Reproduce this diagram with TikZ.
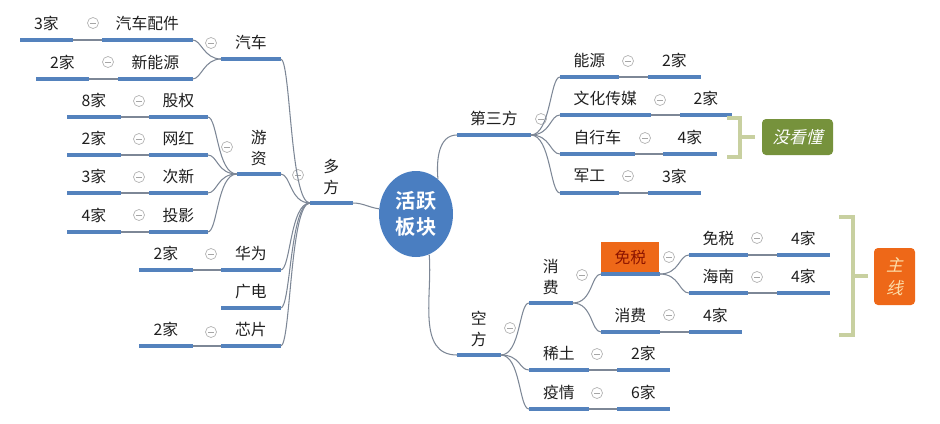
\documentclass[tikz,border=0pt]{standalone}
\usepackage{fontspec}
\setmainfont{Noto Sans CJK SC}[BoldFont={Noto Sans CJK SC Bold}]
\newfontfamily\slcjk[FakeSlant=0.25]{Noto Sans CJK SC}
\usetikzlibrary{shapes.geometric}
\definecolor{barblue}{RGB}{84,130,189}
\definecolor{linkgray}{RGB}{125,135,150}
\definecolor{coreblue}{RGB}{74,126,193}
\definecolor{hotorange}{RGB}{238,104,24}
\definecolor{olive}{RGB}{118,146,60}
\definecolor{bracketgreen}{RGB}{200,208,160}
\tikzset{
  bar/.style={draw=barblue,line width=2pt},
  item/.style={anchor=south west,inner sep=0pt,minimum width=#1*0.02cm,
    minimum height=33*0.02cm,text=black!88,font=\fontsize{9}{12}\selectfont,
    append after command={(\tikzlastnode.south west) edge[bar] (\tikzlastnode.south east)}},
  tall/.style={minimum height=51*0.02cm,align=center},
  fold/.style={circle,draw=gray!60,minimum size=11*0.02cm,inner sep=0pt,
    path picture={\draw[gray!70] ([xshift=-0.06cm]path picture bounding box.center)
      -- ([xshift=0.06cm]path picture bounding box.center);}},
  link/.style={draw=linkgray,line width=0.6pt},
  leftfork/.style={to path={.. controls +(-#1,0) and +(0.5*#1,0) .. (\tikztotarget)}},
  leftfork/.default=20,
  rightfork/.style={to path={.. controls +(#1,0) and +(-0.5*#1,0) .. (\tikztotarget)}},
  rightfork/.default=20,
  tag/.style={rounded corners=0.08cm,inner sep=0pt,text=white,
    font=\slcjk\fontsize{9.5}{12}\selectfont},
  brk/.style={draw=bracketgreen,line width=2.8pt}
}

\begin{document}
\begin{tikzpicture}[x=0.02cm,y=-0.02cm]
  \useasboundingbox (0,0) rectangle (940,423);
  % centre
  \node[ellipse,fill=coreblue,minimum width=74*0.02cm,minimum height=86*0.02cm,inner sep=0pt,
    text=white,align=center,font=\bfseries\fontsize{11.5}{15}\selectfont] (core) at (416,214) {活跃\\板块};

  % left: 多方
  \node[item=42,tall] (duofang) at (310,203) {多\\方};
  \node[item=59] (qiche) at (221,59) {汽车};
  \node[item=52] (n3a) at (20,40) {3家};
  \node[item=90] (qcpj) at (102,40) {汽车配件};
  \node[item=52] (n2a) at (36,79) {2家};
  \node[item=74] (xny) at (118,79) {新能源};
  \node[item=43,tall] (youzi) at (237,174) {游\\资};
  \node[item=53] (n8) at (67,117) {8家};
  \node[item=58] (guquan) at (149,117) {股权};
  \node[item=53] (n2b) at (67,155) {2家};
  \node[item=58] (wanghong) at (149,155) {网红};
  \node[item=53] (n3b) at (67,193) {3家};
  \node[item=58] (cixin) at (149,193) {次新};
  \node[item=53] (n4a) at (67,232) {4家};
  \node[item=58] (touying) at (149,232) {投影};
  \node[item=53] (n2c) at (139,270) {2家};
  \node[item=59] (huawei) at (221,270) {华为};
  \node[item=59] (guangdian) at (221,308) {广电};
  \node[item=53] (n2d) at (139,346) {2家};
  \node[item=59] (xinpian) at (221,346) {芯片};

  % right: 第三方
  \node[item=73] (disanfang) at (457,135) {第三方};
  \node[item=58] (nengyuan) at (560,77) {能源};
  \node[item=52] (n2e) at (648,77) {2家};
  \node[item=90] (wenhua) at (560,115) {文化传媒};
  \node[item=51] (n2f) at (680,115) {2家};
  \node[item=74] (zixingche) at (560,154) {自行车};
  \node[item=53] (n4b) at (663,154) {4家};
  \node[item=58] (jungong) at (560,193) {军工};
  \node[item=52] (n3c) at (648,193) {3家};

  % right: 空方
  \node[item=43,tall] (kongfang) at (457,355) {空\\方};
  \node[item=43,tall] (xiaofei) at (529,303) {消\\费};
  \node[item=58,minimum height=32*0.02cm,fill=hotorange,text={rgb,255:red,140;green,20;blue,0}] (mianshui) at (601,274) {免税};
  \node[item=58] (mianshuib) at (689,255) {免税};
  \node[item=52] (n4c) at (777,255) {4家};
  \node[item=58] (hainan) at (689,293) {海南};
  \node[item=52] (n4d) at (777,293) {4家};
  \node[item=58] (xiaofeib) at (601,332) {消费};
  \node[item=52] (n4e) at (689,332) {4家};
  \node[item=59] (xitu) at (529,370) {稀土};
  \node[item=52] (n2g) at (617,370) {2家};
  \node[item=59] (yiqing) at (529,409) {疫情};
  \node[item=52] (n6) at (617,409) {6家};

  % collapse marks
  \foreach \x/\y [count=\i] in {93/23,108/62,211/43,139/101,139/139,139/177,139/215,227/147,
      211/254,211/332,298/175,541/119,628/61,660/100,645/138,628/176,510/328,582/275,
      669/257,669/315,757/238,757/277,597/354,597/393}
    \node[fold] (f\i) at (\x,\y) {};

  % branches
  \draw[link] (duofang.south east) to[out=0,in=172] (core.172);
  \draw[link] (core.58) to[out=95,in=180] (disanfang.south west);
  \draw[link] (core.-72) to[out=-85,in=180] (kongfang.south west);
  \foreach \c in {qiche,youzi,huawei,guangdian,xinpian}
    \draw[link] (duofang.south west) to[leftfork] (\c.south east);
  \foreach \c in {qcpj,xny}
    \draw[link] (qiche.south west) to[leftfork=17] (\c.south east);
  \foreach \c in {guquan,wanghong,cixin,touying}
    \draw[link] (youzi.south west) to[leftfork] (\c.south east);
  \foreach \c in {nengyuan,wenhua,zixingche,jungong}
    \draw[link] (disanfang.south east) to[rightfork] (\c.south west);
  \foreach \c in {xiaofei,xitu,yiqing}
    \draw[link] (kongfang.south east) to[rightfork] (\c.south west);
  \foreach \c in {mianshui,xiaofeib}
    \draw[link] (xiaofei.south east) to[rightfork] (\c.south west);
  \foreach \c in {mianshuib,hainan}
    \draw[link] (mianshui.south east) to[rightfork] (\c.south west);
  % leaf counts
  \foreach \a/\b in {n3a/qcpj,n2a/xny,n8/guquan,n2b/wanghong,n3b/cixin,n4a/touying,n2c/huawei,
      n2d/xinpian,nengyuan/n2e,wenhua/n2f,zixingche/n4b,jungong/n3c,mianshuib/n4c,hainan/n4d,
      xiaofeib/n4e,xitu/n2g,yiqing/n6}
    \draw[link] (\a.south east) -- (\b.south west);

  % notes
  \draw[brk] (727,118) -- (740,118) -- (740,157) -- (727,157);
  \draw[brk] (740,137) -- (755,137);
  \node[tag,fill=olive,minimum width=71*0.02cm,minimum height=36*0.02cm] (meikandong) at (797.5,137) {没看懂};
  \draw[brk] (839,217) -- (853,217) -- (853,335) -- (839,335);
  \draw[brk] (853,276) -- (868,276);
  \node[tag,fill=hotorange,minimum width=41*0.02cm,minimum height=57*0.02cm,align=center,
    text={rgb,255:red,252;green,222;blue,170},font=\slcjk\fontsize{9.5}{13}\selectfont] (zhuxian) at (894.5,276.5) {主\\线};
\end{tikzpicture}
\end{document}
